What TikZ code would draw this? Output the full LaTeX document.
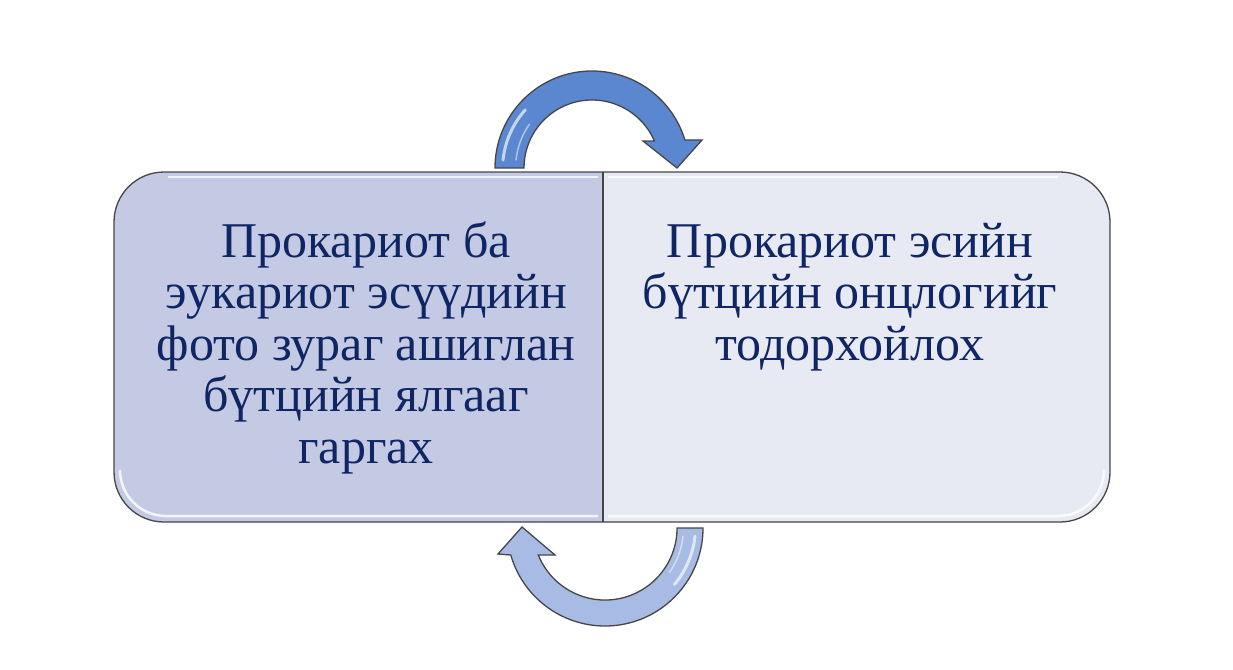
\documentclass[tikz,border=0pt]{standalone}
\usepackage{fontspec}
\setmainfont{Liberation Serif}
\definecolor{txt}{RGB}{16,38,100}
\definecolor{leftfill}{RGB}{196,202,228}
\definecolor{rightfill}{RGB}{231,233,243}
\definecolor{arrowtop}{RGB}{91,135,208}
\definecolor{arrowbot}{RGB}{167,187,229}
\definecolor{edgec}{RGB}{70,70,70}
\tikzset{
  linetext/.style={anchor=base, inner sep=0pt, text=txt, font=\fontsize{50}{52}\selectfont},
  outline/.style={draw=edgec, line width=1.3pt},
  shine/.style={draw=white, line width=3pt, opacity=0.65, line cap=round},
}
\begin{document}
\begin{tikzpicture}[x=1pt,y=-1pt]
\useasboundingbox (0,0) rectangle (1233,669);
% left half
\fill[leftfill] (603,172) -- (164,172) arc[start angle=270, end angle=180, radius=50]
  -- (114,472) arc[start angle=180, end angle=90, radius=50] -- (603,522) -- cycle;
% right half
\fill[rightfill] (603,172) -- (1060,172) arc[start angle=270, end angle=360, radius=50]
  -- (1110,472) arc[start angle=0, end angle=90, radius=50] -- (603,522) -- cycle;
% bevel highlights
\draw[white, line width=2.5pt, opacity=0.8] (168,177) -- (598,177);
\draw[white, line width=2.5pt, opacity=0.8] (608,177) -- (1058,177);
\draw[white, line width=2.5pt, opacity=0.8] (120,470) arc[start angle=180, end angle=90, radius=46] -- (598,516);
\draw[white, line width=2.5pt, opacity=0.8] (608,516) -- (1058,516) arc[start angle=90, end angle=0, radius=46];
% outline and divider
\draw[outline, rounded corners=50pt] (114,172) rectangle (1110,522);
\draw[outline] (603,172) -- (603,522);
% top arrow
\filldraw[fill=arrowtop, outline] (495,168) arc[start angle=180, end angle=343.2, radius=97]
  -- (702,140) -- (677,168) -- (643,141) -- (654.4,141)
  arc[start angle=336.6, end angle=180, radius=68] -- cycle;
\draw[shine] (503,160) arc[start angle=186, end angle=222, radius=89];
\draw[shine, line width=1.5pt, opacity=0.5] (516,160) arc[start angle=186, end angle=215, radius=76];
% bottom arrow
\filldraw[fill=arrowbot, outline] (703,528) arc[start angle=0, end angle=164, radius=98]
  -- (498,554) -- (522,527) -- (555,555) -- (538.3,555)
  arc[start angle=158, end angle=0, radius=72] -- cycle;
\draw[shine] (695,536) arc[start angle=6, end angle=40, radius=90];
\draw[shine, line width=1.5pt, opacity=0.5] (683,536) arc[start angle=6, end angle=35, radius=78];
% texts
\node[linetext] (l1) at (366,257) {Прокариот ба};
\node[linetext] (l2) at (366,308.5) {эукариот эсүүдийн};
\node[linetext] (l3) at (366,360) {фото зураг ашиглан};
\node[linetext] (l4) at (366,411.5) {бүтцийн ялгааг};
\node[linetext] (l5) at (366,463) {гаргах};
\node[linetext] (r1) at (850,257) {Прокариот эсийн};
\node[linetext] (r2) at (850,308.5) {бүтцийн онцлогийг};
\node[linetext] (r3) at (850,360) {тодорхойлох};
\end{tikzpicture}
\end{document}
